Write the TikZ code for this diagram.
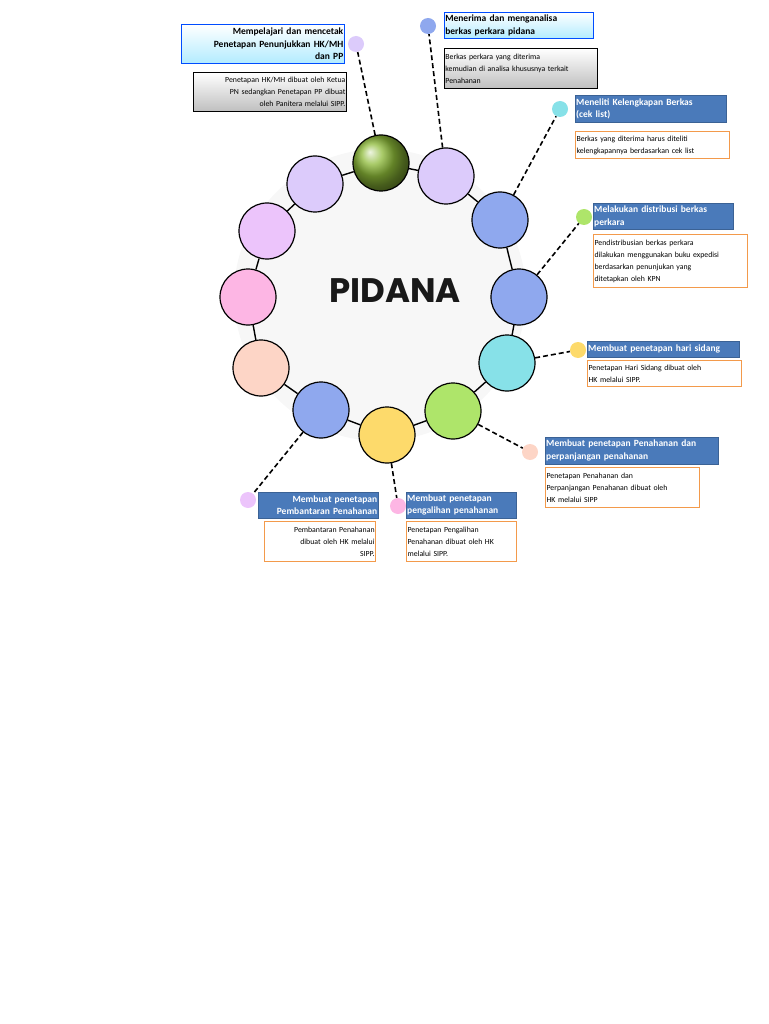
\documentclass[tikz,border=0pt]{standalone}
\usepackage{fontspec}
\setmainfont{Carlito}
\newfontfamily\pop{Poppins}
\definecolor{cblue}{HTML}{8FA8EE}
\definecolor{clav}{HTML}{DCCBFB}
\definecolor{cpinkl}{HTML}{ECC4FB}
\definecolor{cpink}{HTML}{FDB6E4}
\definecolor{cpeach}{HTML}{FDD5C6}
\definecolor{ccyan}{HTML}{87E1E8}
\definecolor{clgreen}{HTML}{AEE56A}
\definecolor{cyel}{HTML}{FDDA6B}
\definecolor{cgreen}{HTML}{8DBA38}
\definecolor{dkblue}{HTML}{4A7ABA}
\definecolor{corange}{HTML}{F39A4B}
\begin{document}
\begin{tikzpicture}[x=1pt,y=-1pt,
 ring/.style={circle,draw=black,line width=1.2pt,minimum size=56pt,inner sep=0},
 dot/.style={circle,minimum size=16pt,inner sep=0},
 lead/.style={line width=1.6pt,dash pattern=on 5pt off 3pt},
 link/.style={line width=1.4pt},
 hb/.style={draw=blue!70!cyan,line width=0.6pt,top color=white,bottom color=blue!25!cyan!30,font=\bfseries\fontsize{9.5}{12.5}\selectfont,inner sep=1pt,anchor=north west},
 db/.style={draw=dkblue!80!black,fill=dkblue,text=white,font=\bfseries\fontsize{9.5}{12.5}\selectfont,inner sep=1pt,anchor=north west},
 gb/.style={draw=black,line width=0.8pt,top color=white,bottom color=black!25,font=\fontsize{7.8}{12}\selectfont,inner sep=1pt,anchor=north west},
 ob/.style={draw=corange,line width=1.2pt,fill=white,font=\fontsize{7.8}{12}\selectfont,inner sep=1pt,anchor=north west}]
\useasboundingbox (0,0) rectangle (768,1024);
\fill[black!3] (380,295) circle (146);
\node[ring,ball color=cgreen] (c1) at (381,163) {};
\node[ring,fill=clav] (c2) at (446,176) {};
\node[ring,fill=cblue] (c3) at (500,220) {};
\node[ring,fill=cblue] (c4) at (519,297) {};
\node[ring,fill=ccyan] (c5) at (507,363) {};
\node[ring,fill=clgreen] (c6) at (453,411) {};
\node[ring,fill=cyel] (c7) at (387,435) {};
\node[ring,fill=cblue] (c8) at (321,410) {};
\node[ring,fill=cpeach] (c9) at (261,368) {};
\node[ring,fill=cpink] (c10) at (248,297) {};
\node[ring,fill=cpinkl] (c11) at (267,231) {};
\node[ring,fill=clav] (c12) at (315,184) {};
\foreach \a/\b in {c1/c2,c2/c3,c3/c4,c4/c5,c5/c6,c6/c7,c7/c8,c8/c9,c9/c10,c10/c11,c11/c12,c12/c1}
  \draw[link] (\a) -- (\b);
\node[font=\pop\bfseries\fontsize{34}{36}\selectfont,text=black!90] (title) at (395,291) {PIDANA};
\node[dot,fill=clav] (d1) at (356,44) {};
\node[dot,fill=cblue] (d2) at (428,26) {};
\node[dot,fill=ccyan] (d3) at (560,109) {};
\node[dot,fill=clgreen] (d4) at (584,217) {};
\node[dot,fill=cyel] (d5) at (578,350) {};
\node[dot,fill=cpeach] (d6) at (530,452) {};
\node[dot,fill=cpink] (d7) at (398,506) {};
\node[dot,fill=cpinkl] (d8) at (248,500) {};
\draw[lead] (c1) -- (d1);
\draw[lead] (c2) -- (d2);
\draw[lead] (c3) -- (d3);
\draw[lead] (c4) -- (d4);
\draw[lead] (c5) -- (d5);
\draw[lead] (c6) -- (d6);
\draw[lead] (c7) -- (d7);
\draw[lead] (c8) -- (d8);
\node[hb,text width=161pt,align=right,minimum height=39pt] (h1) at (181,24) {Mempelajari dan mencetak\\Penetapan Penunjukkan HK/MH\\dan PP};
\node[gb,text width=151pt,align=right,minimum height=39pt] (g1) at (193,72) {Penetapan HK/MH dibuat oleh Ketua\\PN sedangkan Penetapan PP dibuat\\oleh Panitera melalui SIPP.};
\node[hb,text width=147pt,align=left,minimum height=26pt] (h2) at (444,12) {Menerima dan menganalisa\\berkas perkara pidana};
\node[gb,text width=151pt,align=left,minimum height=40pt] (g2) at (444,48) {Berkas perkara yang diterima\\kemudian di analisa khususnya terkait\\Penahanan};
\node[db,text width=149pt,align=left,minimum height=27pt] (h3) at (575,95) {Meneliti Kelengkapan Berkas\\(cek list)};
\node[ob,text width=152pt,align=left,minimum height=27pt] (o3) at (575,131) {Berkas yang diterima harus diteliti\\kelengkapannya berdasarkan cek list};
\node[db,text width=138pt,align=left,minimum height=26pt] (h4) at (593,203) {Melakukan distribusi berkas\\perkara};
\node[ob,text width=152pt,align=left,minimum height=53pt] (o4) at (593,234) {Pendistribusian berkas perkara\\dilakukan menggunakan buku expedisi\\berdasarkan penunjukan yang\\ditetapkan oleh KPN};
\node[db,text width=150pt,align=left,minimum height=16pt] (h5) at (587,341) {Membuat penetapan hari sidang};
\node[ob,text width=152pt,align=left,minimum height=26pt] (o5) at (587,360) {Penetapan Hari Sidang dibuat oleh\\HK melalui SIPP.};
\node[db,text width=171pt,align=left,minimum height=27pt] (h6) at (545,437) {Membuat penetapan Penahanan dan\\perpanjangan penahanan};
\node[ob,text width=152pt,align=left,minimum height=40pt] (o6) at (545,467) {Penetapan Penahanan dan\\Perpanjangan Penahanan dibuat oleh\\HK melalui SIPP};
\node[db,text width=108pt,align=left,minimum height=26pt] (h7) at (406,492) {Membuat penetapan\\pengalihan penahanan};
\node[ob,text width=108pt,align=left,minimum height=40pt] (o7) at (406,521) {Penetapan Pengalihan\\Penahanan dibuat oleh HK\\melalui SIPP.};
\node[db,text width=118pt,align=right,minimum height=26pt] (h8) at (258,492) {Membuat penetapan\\Pembantaran Penahanan};
\node[ob,text width=109pt,align=right,minimum height=40pt] (o8) at (264,521) {Pembantaran Penahanan\\dibuat oleh HK melalui\\SIPP.};
\end{tikzpicture}
\end{document}
